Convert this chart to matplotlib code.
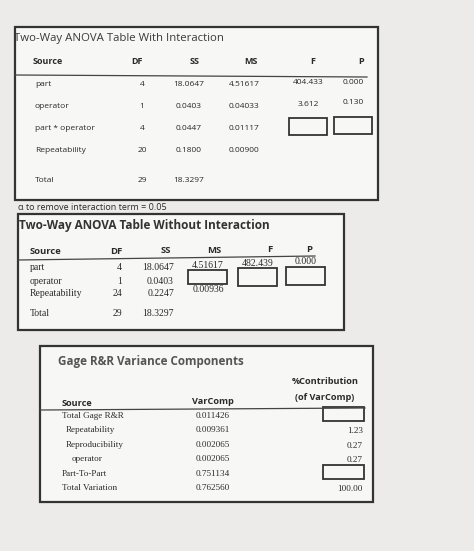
"""Recreation of the Gage R&R ANOVA tables page."""

import matplotlib
matplotlib.use("Agg")
import matplotlib.pyplot as plt
from matplotlib.patches import Rectangle

SANS = "Open Sans"
SERIF = "Liberation Serif"
INK = "#2a2a2a"

# table 1: with interaction
t1_cols = ["Source", "DF", "SS", "MS", "F", "P"]
t1_source = ["part", "operator", "part * operator", "Repeatability", "Total"]
t1_df = ["4", "1", "4", "20", "29"]
t1_ss = ["18.0647", "0.0403", "0.0447", "0.1800", "18.3297"]
t1_ms = ["4.51617", "0.04033", "0.01117", "0.00900", ""]
t1_f = ["404.433", "3.612", None, "", ""]
t1_p = ["0.000", "0.130", None, "", ""]

# table 2: without interaction
t2_source = ["part", "operator", "Repeatability", "Total"]
t2_df = ["4", "1", "24", "29"]
t2_ss = ["18.0647", "0.0403", "0.2247", "18.3297"]
t2_ms = ["4.51617", None, "0.00936", ""]
t2_f = ["482.439", None, "", ""]
t2_p = ["0.000", None, "", ""]

# table 3: variance components
t3_source = ["Total Gage R&R", "Repeatability", "Reproducibility",
             "operator", "Part-To-Part", "Total Variation"]
t3_indent = [0, 4, 4, 10, 0, 0]
t3_varcomp = ["0.011426", "0.009361", "0.002065", "0.002065", "0.751134", "0.762560"]
t3_contrib = [None, "1.23", "0.27", "0.27", None, "100.00"]

fig = plt.figure(figsize=(4.74, 5.51), dpi=100)
fig.patch.set_facecolor("#ecebea")
ax = fig.add_axes([0, 0, 1, 1])
ax.set_xlim(0, 474)
ax.set_ylim(551, 0)
ax.axis("off")


def box(x0, y0, x1, y1, lw=1.6, fc="#f7f7f5"):
    ax.add_patch(Rectangle((x0, y0), x1 - x0, y1 - y0, fill=True, fc=fc,
                           ec="#333333", lw=lw, zorder=1))


def txt(x, y, s, fam=SANS, size=6, ha="left", weight="normal", color=INK):
    ax.text(x, y, s, family=fam, fontsize=size, ha=ha, va="center",
            weight=weight, color=color, zorder=3)


def cell(x, y, v, fam, size, w=38, h=17):
    if v is None:
        box(x - w / 2, y - h / 2, x + w / 2, y + h / 2, lw=1.3, fc="none")
    elif v:
        txt(x, y, v, fam, size, ha="center")


# ---- table 1
box(15, 27, 378, 200)
txt(14, 39, "Two-Way ANOVA Table With Interaction", size=8.2, color="#3a3a3a")
hx = [33, 137, 195, 251, 313, 361]
for i, c in enumerate(t1_cols):
    txt(hx[i], 61, c, size=6.5, ha="left" if i == 0 else "center", weight="bold")
ax.plot([15, 367], [75, 77], color="#444444", lw=0.9, zorder=2)
ys = [85, 106, 128, 150, 180]
for i, y in enumerate(ys):
    txt(35, y, t1_source[i], size=6.0)
    txt(142, y, t1_df[i], size=6.0, ha="center")
    txt(189, y, t1_ss[i], size=6.0, ha="center")
    txt(244, y, t1_ms[i], size=6.0, ha="center")
    cell(308, y - 2, t1_f[i], SANS, 6.0)
    cell(353, y - 3, t1_p[i], SANS, 6.0)

txt(18, 207, "\u03b1 to remove interaction term = 0.05", size=6.5)

# ---- table 2
box(18, 214, 344, 330)
txt(19, 225, "Two-Way ANOVA Table Without Interaction", size=8.5, weight="bold",
    color="#333333")
hx2 = [30, 116, 166, 214, 270, 309]
for i, c in enumerate(t1_cols):
    txt(hx2[i], 252 - i * 0.6, c, size=6.8, ha="left" if i == 0 else "center",
        weight="bold")
ax.plot([18, 315], [260, 256], color="#444444", lw=0.9, zorder=2)
ys2 = [268, 281, 294, 314]
for i, y in enumerate(ys2):
    txt(30, y, t2_source[i], SERIF, 7.0)
    txt(122, y, t2_df[i], SERIF, 7.0, ha="right")
    txt(174, y, t2_ss[i], SERIF, 7.0, ha="right")
# MS / F / P values sit slightly above their rows in the scan
ms_y = [265, 277, 290, 0]
f_y = [263, 277, 0, 0]
p_y = [262, 276, 0, 0]
for i in range(4):
    cell(208, ms_y[i], t2_ms[i], SERIF, 7.0, w=39, h=14)
    cell(258, f_y[i], t2_f[i], SERIF, 7.0, w=39, h=18)
    cell(306, p_y[i], t2_p[i], SERIF, 7.0, w=39, h=18)

# ---- table 3
box(40, 346, 373, 502)
txt(58, 361, "Gage R&R Variance Components", size=8.4, weight="bold", color="#555555")
txt(325, 382, "%Contribution", size=6.6, ha="center", weight="bold")
txt(325, 397, "(of VarComp)", size=6.6, ha="center", weight="bold")
txt(62, 403, "Source", size=6.6, weight="bold")
txt(213, 402, "VarComp", size=6.6, ha="center", weight="bold")
ax.plot([40, 365], [410, 408], color="#444444", lw=0.9, zorder=2)
for i, name in enumerate(t3_source):
    y = 416 + i * 14.4
    txt(62 + t3_indent[i], y, name, SERIF, 6.6)
    txt(213, y, t3_varcomp[i], SERIF, 6.6, ha="center")
    if t3_contrib[i] is None:
        box(323, y - 9, 364, y + 5, lw=1.3, fc="none")
    else:
        txt(363, y + 1, t3_contrib[i], SERIF, 6.6, ha="right")
ax.plot([328, 364], [465, 465], color="#444444", lw=0.6, zorder=2)

fig.savefig("out.png", dpi=100, facecolor=fig.get_facecolor())
